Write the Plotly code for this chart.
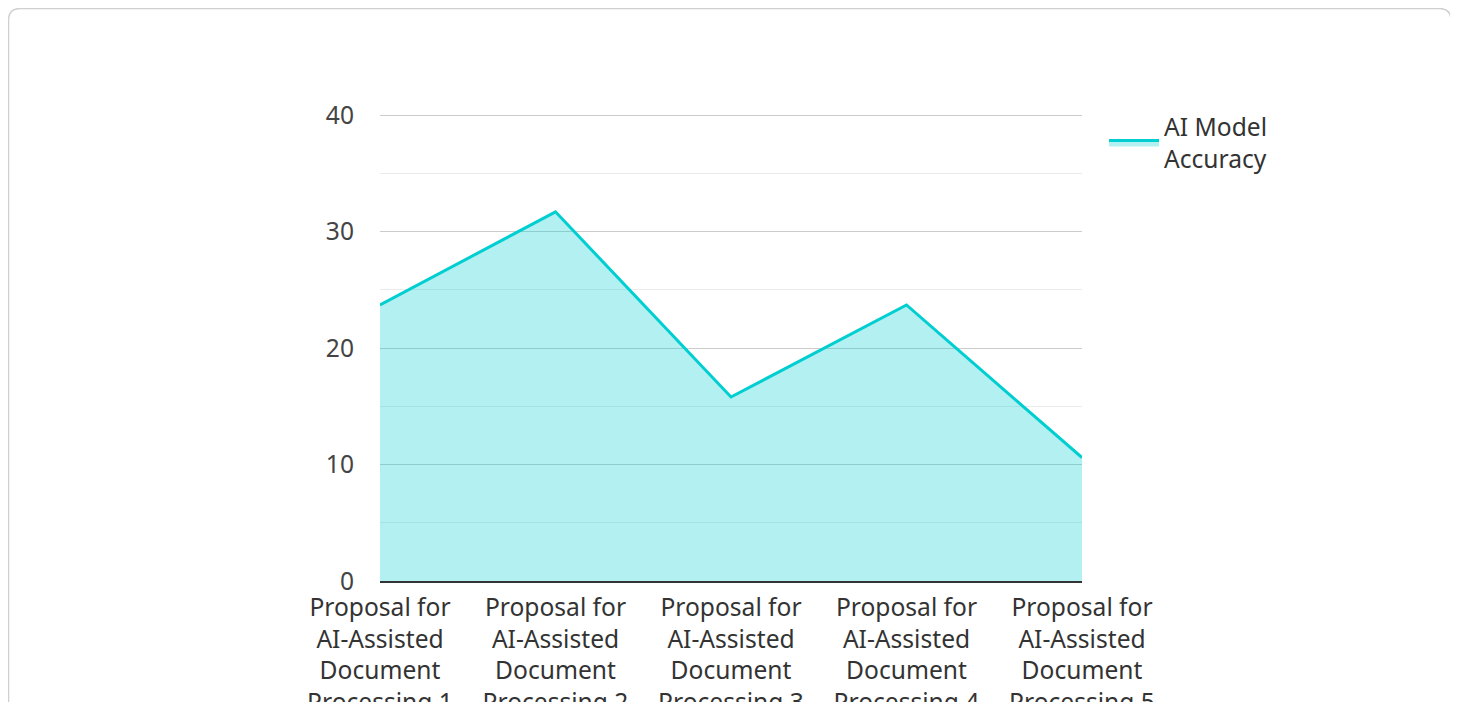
import plotly.graph_objects as go

categories = [
    "Proposal for<br>AI-Assisted<br>Document<br>Processing 1",
    "Proposal for<br>AI-Assisted<br>Document<br>Processing 2",
    "Proposal for<br>AI-Assisted<br>Document<br>Processing 3",
    "Proposal for<br>AI-Assisted<br>Document<br>Processing 4",
    "Proposal for<br>AI-Assisted<br>Document<br>Processing 5",
]
accuracy = [23.7, 31.7, 15.8, 23.7, 10.6]
series_name = "AI Model<br>Accuracy"
y_ticks = [0, 10, 20, 30, 40]

W, H = 1444, 694
L, R, T, B = 372, 1074, 106, 573  # plot area in figure pixels
pw, ph = R - L, B - T

def px(x):
    return (x - L) / pw

def py(y):
    return (B - y) / ph

fig = go.Figure()
fig.add_trace(go.Scatter(
    x=categories, y=accuracy, mode="lines", name=series_name,
    line=dict(color="#00CED1", width=3),
    fill="tozeroy", fillcolor="rgba(0,206,209,0.3)",
))

# card border (rounded rectangle)
x0, x1, y0, y1, r = 0.5, W - 1.0, 0.5, H + 40, 12
path = (f"M {px(x0+r)},{py(y0)} L {px(x1-r)},{py(y0)} "
        f"Q {px(x1)},{py(y0)} {px(x1)},{py(y0+r)} L {px(x1)},{py(y1)} "
        f"L {px(x0)},{py(y1)} L {px(x0)},{py(y0+r)} "
        f"Q {px(x0)},{py(y0)} {px(x0+r)},{py(y0)} Z")
fig.add_shape(type="path", path=path, xref="paper", yref="paper",
              line=dict(color="#d0d0d0", width=1.5), layer="below")

fig.update_layout(
    width=W, height=H,
    margin=dict(l=L, r=W - R, t=T, b=H - B, autoexpand=False),
    paper_bgcolor="white", plot_bgcolor="white",
    font=dict(family="Noto Sans, Open Sans, sans-serif", size=24.6, color="#444"),
    showlegend=True,
    legend=dict(x=1.02 + 8 / pw, y=1.0 + 10 / ph, xanchor="left", yanchor="top",
                itemwidth=50,
                font=dict(size=24.6, color="#333"), bgcolor="rgba(0,0,0,0)"),
    xaxis=dict(showgrid=False, showline=True, linecolor="#333", linewidth=2,
               ticks="", automargin=False, ticklabelstandoff=3,
               tickfont=dict(color="#333")),
    yaxis=dict(range=[0, 40.1], tickvals=y_ticks, showgrid=True, gridcolor="#cccccc",
               gridwidth=1, zeroline=False, showline=False, ticks="",
               ticklabelstandoff=25, automargin=False,
               minor=dict(dtick=5, showgrid=True, gridcolor="#ebebeb", gridwidth=1)),
)

fig.write_html("out.html")
